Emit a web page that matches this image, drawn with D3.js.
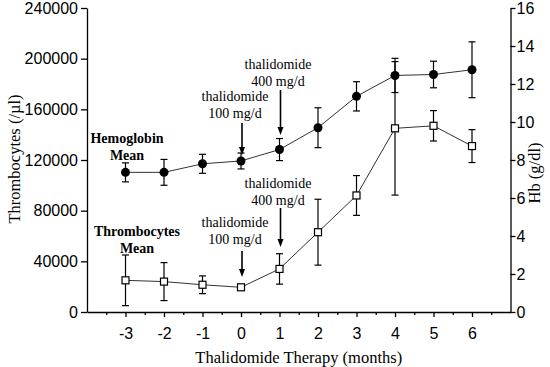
<!DOCTYPE html>
<html>
<head>
<meta charset="utf-8">
<script src="https://cdn.jsdelivr.net/npm/d3@7"></script>
<style>
  body { margin: 0; background: #fff; }
  .tick text { font-family: "Liberation Sans", Arial, sans-serif; font-size: 16px; fill: #000; }
  .title { font-family: "Liberation Serif", "Times New Roman", serif; font-size: 16.5px; fill: #000; }
  .note { font-family: "Liberation Serif", "Times New Roman", serif; font-size: 14px; fill: #000; }
  .bold { font-weight: bold; }
</style>
</head>
<body>
<svg id="chart" width="550" height="367"></svg>
<script>
// months of therapy
const months = [-3, -2, -1, 0, 1, 2, 3, 4, 5, 6];
// hemoglobin (g/dl), right axis
const hbMean = [7.35, 7.35, 7.8, 7.95, 8.55, 9.7, 11.35, 12.45, 12.5, 12.75];
const hbErr  = [0.5, 0.68, 0.5, 0.42, 0.58, 1.05, 0.77, 0.9, 0.7, 1.47];
// thrombocytes (/µl), left axis
const thrMean = [25000, 24000, 21500, 19500, 34000, 63000, 92000, 145000, 147000, 131000];
const thrErr  = [20000, 15000, 7000, 0, 12000, 26000, 15700, 52700, 12000, 13000];
const leftTicks = [0, 40000, 80000, 120000, 160000, 200000, 240000];
const rightTicks = [0, 2, 4, 6, 8, 10, 12, 14, 16];

const svg = d3.select("#chart");
const mLeft = 87, mRight = 510.5, mTop = 8, mBottom = 312;

const x = d3.scaleLinear().domain([-4, 7]).range([mLeft, mRight]);
const yL = d3.scaleLinear().domain([0, 240000]).range([mBottom, mTop]);
const yR = d3.scaleLinear().domain([0, 16]).range([mBottom, mTop]);

// axes
svg.append("g").attr("transform", `translate(0,${mBottom})`)
  .call(d3.axisBottom(x).tickValues(months).tickFormat(d => String(d)).tickSize(5).tickSizeOuter(0).tickPadding(11));
svg.append("g").attr("transform", `translate(0,${mBottom})`)
  .call(d3.axisBottom(x).tickValues(d3.range(-3.5, 7, 1)).tickFormat("").tickSize(3).tickSizeOuter(0))
  .select(".domain").remove();
svg.append("g").attr("transform", `translate(${mLeft},0)`)
  .call(d3.axisLeft(yL).tickValues(leftTicks).tickFormat(d => String(d)).tickSize(6).tickSizeOuter(0).tickPadding(3));
svg.append("g").attr("transform", `translate(${mRight},0)`)
  .call(d3.axisRight(yR).tickValues(rightTicks).tickSize(5).tickSizeOuter(0).tickPadding(1));
svg.selectAll(".domain, .tick line").attr("stroke", "#000").attr("stroke-width", 1.3);

// axis titles
svg.append("text").attr("class", "title").attr("text-anchor", "middle")
  .attr("x", (mLeft + mRight) / 2).attr("y", 363).text("Thalidomide Therapy (months)");
svg.append("text").attr("class", "title").attr("text-anchor", "middle")
  .attr("transform", `translate(20,159) rotate(-90)`).text("Thrombocytes (/µl)");
svg.append("text").attr("class", "title").attr("text-anchor", "middle")
  .attr("transform", `translate(540,173) rotate(-90)`).text("Hb (g/dl)");

function series(mean, err, y) {
  const pts = months.map((m, i) => ({ x: x(m), y: y(mean[i]), lo: y(mean[i] - err[i]), hi: y(mean[i] + err[i]) }));
  const g = svg.append("g");
  g.append("path").datum(pts)
    .attr("d", d3.line().x(d => d.x).y(d => d.y))
    .attr("fill", "none").attr("stroke", "#333").attr("stroke-width", 1);
  const eb = g.selectAll(".eb").data(pts.filter(d => d.hi !== d.lo)).join("g").attr("stroke", "#000").attr("stroke-width", 1.2);
  eb.append("line").attr("x1", d => d.x).attr("x2", d => d.x).attr("y1", d => d.lo).attr("y2", d => d.hi);
  eb.append("line").attr("x1", d => d.x - 3.5).attr("x2", d => d.x + 3.5).attr("y1", d => d.lo).attr("y2", d => d.lo);
  eb.append("line").attr("x1", d => d.x - 3.5).attr("x2", d => d.x + 3.5).attr("y1", d => d.hi).attr("y2", d => d.hi);
  return { g, pts };
}

const thr = series(thrMean, thrErr, yL);
thr.g.selectAll("rect").data(thr.pts).join("rect")
  .attr("x", d => d.x - 3.5).attr("y", d => d.y - 3.5).attr("width", 7).attr("height", 7)
  .attr("fill", "#fff").attr("stroke", "#000").attr("stroke-width", 1.2);

const hb = series(hbMean, hbErr, yR);
hb.g.selectAll("circle").data(hb.pts).join("circle")
  .attr("cx", d => d.x).attr("cy", d => d.y).attr("r", 4.5).attr("fill", "#000");

// annotations
function label(lines, cx, y0, cls) {
  const t = svg.append("text").attr("class", cls).attr("text-anchor", "middle");
  lines.forEach((s, i) => t.append("tspan").attr("x", cx).attr("y", y0 + i * 16.5).text(s));
}
function arrow(xp, y1, y2) {
  svg.append("line").attr("x1", xp).attr("x2", xp).attr("y1", y1).attr("y2", y2 - 6)
    .attr("stroke", "#000").attr("stroke-width", 1.6);
  svg.append("path").attr("d", `M${xp - 3},${y2 - 8}L${xp + 3},${y2 - 8}L${xp},${y2}Z`).attr("fill", "#000");
}
label(["Hemoglobin", "Mean"], 127, 143, "note bold");
label(["Thrombocytes", "Mean"], 137, 236, "note bold");
label(["thalidomide", "100 mg/d"], 235, 101, "note");
label(["thalidomide", "400 mg/d"], 278, 69, "note");
label(["thalidomide", "100 mg/d"], 235, 227, "note");
label(["thalidomide", "400 mg/d"], 278, 188, "note");
arrow(x(0) + 1, 123, 155);
arrow(x(1) + 1, 90, 135);
arrow(x(0) + 1, 251, 277);
arrow(x(1) + 1, 208, 247);
</script>
</body>
</html>
